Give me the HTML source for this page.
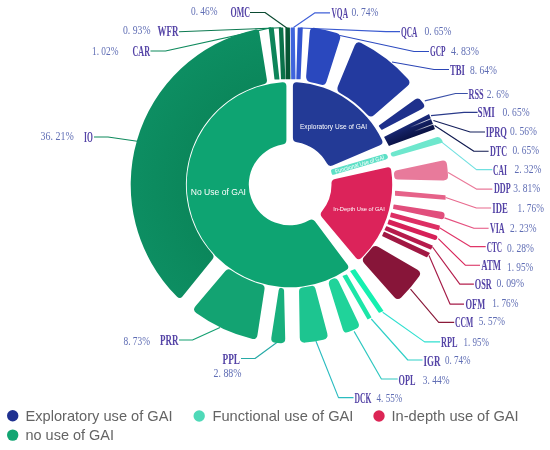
<!DOCTYPE html>
<html><head><meta charset="utf-8"><title>GAI use</title>
<style>
html,body{margin:0;padding:0;background:#fff;}
body{width:550px;height:450px;overflow:hidden;}
svg{display:block}
.nm{font-family:"Liberation Serif",serif;font-weight:bold;font-size:15.5px;fill:#5443a6;}
.pc{font-family:"Liberation Serif",serif;font-size:11.5px;fill:#5f6db4;}
.in{font-family:"Liberation Sans",sans-serif;fill:#fff;}
.lg{font-family:"Liberation Sans",sans-serif;font-size:14.5px;fill:#646464;}
</style></head><body>
<svg width="550" height="450" viewBox="0 0 550 450">
<defs>
<radialGradient id="gio" gradientUnits="userSpaceOnUse" cx="289.5" cy="184.6" r="159">
<stop offset="0.65" stop-color="#0b875b"/><stop offset="1" stop-color="#0d8e62"/>
</radialGradient>
<linearGradient id="gnv" gradientUnits="userSpaceOnUse" x1="406" y1="124" x2="412" y2="138">
<stop offset="0" stop-color="#1c2c7e"/><stop offset="0.45" stop-color="#121e5e"/><stop offset="1" stop-color="#0a1244"/>
</linearGradient>
<linearGradient id="gw1" gradientUnits="userSpaceOnUse" x1="409.6" y1="127.5" x2="431" y2="118.7">
<stop offset="0" stop-color="#fff" stop-opacity="0"/><stop offset="0.6" stop-color="#fff" stop-opacity="0.9"/><stop offset="1" stop-color="#fff"/>
</linearGradient>
<linearGradient id="gw2" gradientUnits="userSpaceOnUse" x1="414" y1="131.4" x2="433" y2="124.3">
<stop offset="0" stop-color="#fff" stop-opacity="0"/><stop offset="0.6" stop-color="#fff" stop-opacity="0.9"/><stop offset="1" stop-color="#fff"/>
</linearGradient>
</defs>
<rect width="550" height="450" fill="#fff"/>
<g id="lines">
<polyline points="250.0,12.5 265.0,12.5 287.5,28.5" fill="none" stroke="#0b4a31" stroke-width="1.15" stroke-linejoin="round"/>
<polyline points="179.0,31.8 230.0,29.8 281.0,27.8" fill="none" stroke="#0d7a51" stroke-width="1.15" stroke-linejoin="round"/>
<polyline points="150.5,51.0 165.5,51.0 271.0,27.8" fill="none" stroke="#0f8a5d" stroke-width="1.15" stroke-linejoin="round"/>
<polyline points="94.0,137.0 108.0,137.0 139.0,141.5" fill="none" stroke="#0f8a5d" stroke-width="1.15" stroke-linejoin="round"/>
<polyline points="179.0,340.0 192.5,340.0 220.0,327.5" fill="none" stroke="#14a071" stroke-width="1.15" stroke-linejoin="round"/>
<polyline points="241.0,358.5 255.0,358.5 277.5,342.0" fill="none" stroke="#27aaa6" stroke-width="1.15" stroke-linejoin="round"/>
<polyline points="315.9,341.0 338.5,397.6 353.5,397.6" fill="none" stroke="#2bbcc0" stroke-width="1.15" stroke-linejoin="round"/>
<polyline points="354.1,331.4 381.4,379.0 397.7,379.0" fill="none" stroke="#30c8c0" stroke-width="1.15" stroke-linejoin="round"/>
<polyline points="371.3,319.0 407.8,360.0 422.5,360.0" fill="none" stroke="#30d0c8" stroke-width="1.15" stroke-linejoin="round"/>
<polyline points="382.7,312.3 424.6,341.9 440.1,341.9" fill="none" stroke="#30e0d0" stroke-width="1.15" stroke-linejoin="round"/>
<polyline points="410.5,289.2 438.7,322.4 454.2,322.4" fill="none" stroke="#8a1a3a" stroke-width="1.15" stroke-linejoin="round"/>
<polyline points="429.0,255.4 450.0,304.1 464.0,304.1" fill="none" stroke="#a51c48" stroke-width="1.15" stroke-linejoin="round"/>
<polyline points="432.5,247.0 459.8,284.1 473.9,284.1" fill="none" stroke="#b5204e" stroke-width="1.15" stroke-linejoin="round"/>
<polyline points="438.3,238.7 465.3,265.2 480.0,265.2" fill="none" stroke="#d8245a" stroke-width="1.15" stroke-linejoin="round"/>
<polyline points="439.5,227.7 470.2,246.6 485.7,246.6" fill="none" stroke="#e03568" stroke-width="1.15" stroke-linejoin="round"/>
<polyline points="444.5,217.9 473.9,228.2 488.6,228.2" fill="none" stroke="#e5507f" stroke-width="1.15" stroke-linejoin="round"/>
<polyline points="445.7,197.5 476.4,208.0 491.1,208.0" fill="none" stroke="#e86a8e" stroke-width="1.15" stroke-linejoin="round"/>
<polyline points="448.1,172.5 476.4,189.1 492.3,189.1" fill="none" stroke="#ea7a9a" stroke-width="1.15" stroke-linejoin="round"/>
<polyline points="440.8,141.4 476.4,169.6 492.3,169.6" fill="none" stroke="#70e0e0" stroke-width="1.15" stroke-linejoin="round"/>
<polyline points="434.6,125.4 473.9,151.2 488.6,151.2" fill="none" stroke="#101a50" stroke-width="1.15" stroke-linejoin="round"/>
<polyline points="433.4,120.5 470.2,132.0 485.0,132.0" fill="none" stroke="#15205c" stroke-width="1.15" stroke-linejoin="round"/>
<polyline points="431.0,115.6 464.0,112.4 477.6,112.4" fill="none" stroke="#2a3a8a" stroke-width="1.15" stroke-linejoin="round"/>
<polyline points="424.8,100.9 455.5,93.5 467.8,93.5" fill="none" stroke="#3a50a8" stroke-width="1.15" stroke-linejoin="round"/>
<polyline points="392.0,62.0 434.0,69.5 449.0,69.5" fill="none" stroke="#2b45b5" stroke-width="1.15" stroke-linejoin="round"/>
<polyline points="340.0,35.5 414.0,51.5 429.0,51.5" fill="none" stroke="#2d4bc0" stroke-width="1.15" stroke-linejoin="round"/>
<polyline points="300.5,28.0 386.0,31.6 400.0,31.6" fill="none" stroke="#3a5ad0" stroke-width="1.15" stroke-linejoin="round"/>
<polyline points="293.5,27.5 315.0,12.8 330.0,12.8" fill="none" stroke="#4060d8" stroke-width="1.15" stroke-linejoin="round"/>
</g>
<g id="ring">
<path d="M314.91 221.37 L347.32 264.59 Q349.72 267.79 346.43 270.07 A102.70 102.70 0 1 1 282.41 82.15 Q286.40 81.95 286.40 85.95 L286.40 140.02 Q286.40 144.02 282.43 144.52 A40.70 40.70 0 1 0 309.10 220.27 Q312.51 218.17 314.91 221.37Z" fill="#0ea472"/>
<path d="M292.90 137.73 L292.90 85.96 Q292.90 81.96 296.89 82.17 A102.70 102.70 0 0 1 381.99 139.95 Q383.66 143.59 379.98 145.17 L332.46 165.53 Q328.78 167.11 326.99 163.53 A43.00 43.00 0 0 0 296.87 142.24 Q292.90 141.73 292.90 137.73Z" fill="#233a96"/>
<path d="M332.14 169.35 L384.21 154.06 Q386.80 153.30 387.61 155.88 L387.69 156.12 Q388.50 158.70 385.91 159.46 L333.74 174.75 Q332.20 175.20 331.75 173.67 L331.05 171.33 Q330.60 169.80 332.14 169.35Z" fill="#5de0c6"/>
<path d="M335.13 178.93 L386.72 167.53 Q390.62 166.66 391.24 170.62 A102.70 102.70 0 0 1 361.31 258.02 Q358.39 260.76 355.83 257.70 L321.93 217.20 Q319.36 214.14 322.03 211.16 A42.00 42.00 0 0 0 331.49 183.78 Q331.22 179.79 335.13 178.93Z" fill="#dc235a"/>
<path d="M212.36 259.57 L182.45 296.44 Q179.93 299.55 177.07 296.75 A158.80 158.80 0 0 1 254.84 29.63 Q258.75 28.81 259.39 32.75 L266.87 79.41 Q267.50 83.36 263.61 84.29 A103.60 103.60 0 0 0 212.16 253.53 Q214.87 256.46 212.36 259.57Z" fill="url(#gio)"/>
<path d="M264.50 289.24 L257.46 335.03 Q256.70 339.97 251.82 338.87 A158.80 158.80 0 0 1 196.21 313.11 Q192.21 310.11 195.44 306.29 L225.34 270.97 Q227.92 267.91 231.18 270.23 A103.60 103.60 0 0 0 261.24 284.27 Q265.11 285.29 264.50 289.24Z" fill="#13a372"/>
<path d="M284.06 290.54 L285.22 338.85 Q285.33 343.35 280.84 343.16 A158.80 158.80 0 0 1 275.12 342.75 Q270.65 342.28 271.33 337.83 L278.67 290.13 Q279.05 287.67 281.52 287.89 A103.60 103.60 0 0 0 281.52 287.89 Q284.00 288.05 284.06 290.54Z" fill="#18b07d"/>
<path d="M315.40 288.52 L327.25 333.18 Q328.66 338.50 323.31 339.76 A158.80 158.80 0 0 1 305.31 342.61 Q299.83 343.06 299.75 337.56 L299.05 291.26 Q299.00 287.76 302.48 287.38 A103.60 103.60 0 0 0 311.10 285.92 Q314.51 285.14 315.40 288.52Z" fill="#1dc590"/>
<path d="M338.62 281.30 L358.37 322.68 Q360.31 326.74 356.25 328.69 A158.80 158.80 0 0 1 348.36 332.09 Q344.16 333.70 342.81 329.40 L329.11 285.56 Q327.66 280.92 332.14 279.02 A103.60 103.60 0 0 0 332.14 279.02 Q336.53 276.91 338.62 281.30Z" fill="#20d39a"/>
<path d="M347.30 274.92 L371.30 317.08 Q371.60 317.60 371.06 317.87 L368.14 319.33 Q367.60 319.60 367.30 319.08 L342.70 276.52 Q342.40 276.00 342.97 275.80 L346.43 274.60 Q347.00 274.40 347.30 274.92Z" fill="#1de6a8"/>
<path d="M355.34 269.50 L383.26 310.50 Q383.60 311.00 383.05 311.24 L379.55 312.76 Q379.00 313.00 378.66 312.51 L350.34 271.49 Q350.00 271.00 350.56 270.78 L354.44 269.22 Q355.00 269.00 355.34 269.50Z" fill="#15f0b0"/>
<path d="M274.44 79.00 L268.66 28.10 Q268.60 27.60 269.10 27.60 L273.20 27.60 Q273.70 27.60 273.76 28.10 L279.44 79.00 Q279.50 79.50 279.00 79.50 L275.00 79.50 Q274.50 79.50 274.44 79.00Z" fill="#0d8459"/>
<path d="M280.98 78.70 L278.82 28.10 Q278.80 27.60 279.30 27.60 L282.70 27.60 Q283.20 27.60 283.22 28.10 L285.38 78.70 Q285.40 79.20 284.90 79.20 L281.50 79.20 Q281.00 79.20 280.98 78.70Z" fill="#0a7149"/>
<path d="M285.60 78.70 L285.40 28.10 Q285.40 27.60 285.90 27.60 L289.40 27.60 Q289.90 27.60 289.90 28.10 L290.40 78.70 Q290.40 79.20 289.90 79.20 L286.10 79.20 Q285.60 79.20 285.60 78.70Z" fill="#075634"/>
<path d="M291.19 78.70 L290.61 28.10 Q290.60 27.60 291.10 27.60 L294.30 27.60 Q294.80 27.60 294.81 28.10 L295.49 78.70 Q295.50 79.20 295.00 79.20 L291.70 79.20 Q291.20 79.20 291.19 78.70Z" fill="#3f64dd"/>
<path d="M296.31 78.70 L297.69 28.10 Q297.70 27.60 298.20 27.60 L302.30 27.60 Q302.80 27.60 302.78 28.10 L300.62 78.70 Q300.60 79.20 300.10 79.20 L296.80 79.20 Q296.30 79.20 296.31 78.70Z" fill="#3254d0"/>
<path d="M306.14 76.28 L309.74 32.13 Q310.15 27.15 315.10 27.88 A158.80 158.80 0 0 1 336.72 32.98 Q341.46 34.54 339.94 39.31 L326.50 81.44 Q324.98 86.20 320.24 84.62 A104.60 104.60 0 0 0 310.65 82.16 Q305.73 81.27 306.14 76.28Z" fill="#2a48be"/>
<path d="M337.88 86.27 L354.82 45.36 Q356.74 40.74 361.23 42.92 A158.80 158.80 0 0 1 407.99 78.88 Q411.26 82.66 407.50 85.95 L374.20 115.05 Q370.44 118.34 367.18 114.55 A104.60 104.60 0 0 0 340.39 93.22 Q335.97 90.89 337.88 86.27Z" fill="#233a9f"/>
<path d="M379.21 125.22 L414.94 99.62 Q418.60 97.00 421.25 100.63 L423.25 103.37 Q425.90 107.00 421.91 109.08 L382.59 129.54 Q381.70 130.00 381.08 129.21 L379.02 126.59 Q378.40 125.80 379.21 125.22Z" fill="#1e308c"/>
<path d="M384.36 136.82 L428.64 114.18 Q429.00 114.00 429.15 114.37 L434.85 128.63 Q435.00 129.00 434.62 129.14 L389.38 145.86 Q389.00 146.00 388.81 145.65 L384.19 137.35 Q384.00 137.00 384.36 136.82Z" fill="url(#gnv)"/>
<line x1="409.6" y1="127.5" x2="431" y2="118.7" stroke="url(#gw1)" stroke-width="0.8"/>
<line x1="414" y1="131.4" x2="433" y2="124.3" stroke="url(#gw2)" stroke-width="0.8"/>
<path d="M391.89 152.35 L435.69 137.43 Q439.00 136.30 441.22 139.01 L441.78 139.69 Q444.00 142.40 440.63 143.35 L393.93 156.46 Q392.00 157.00 391.11 155.21 L390.89 154.79 Q390.00 153.00 391.89 152.35Z" fill="#6ee7cd"/>
<path d="M397.05 170.34 L441.45 160.77 Q446.34 159.71 447.04 164.66 A158.80 158.80 0 0 1 448.04 175.51 Q448.25 180.50 443.25 180.41 L397.88 179.57 Q394.38 179.51 394.15 176.01 A105.00 105.00 0 0 0 394.02 174.56 Q393.63 171.08 397.05 170.34Z" fill="#e87a9b"/>
<path d="M395.50 190.85 L445.10 195.35 Q445.60 195.40 445.60 195.90 L445.60 199.40 Q445.60 199.90 445.10 199.86 L395.50 195.84 Q395.00 195.80 395.00 195.30 L395.00 191.30 Q395.00 190.80 395.50 190.85Z" fill="#e66289"/>
<path d="M394.09 204.48 L441.54 211.77 Q445.00 212.30 444.54 215.77 L444.46 216.33 Q444.00 219.80 440.58 219.07 L393.49 209.10 Q393.00 209.00 393.06 208.50 L393.54 204.90 Q393.60 204.40 394.09 204.48Z" fill="#e14e7c"/>
<path d="M391.48 212.53 L439.52 225.47 Q440.00 225.60 439.90 226.09 L439.10 229.91 Q439.00 230.40 438.52 230.27 L390.48 217.13 Q390.00 217.00 390.11 216.51 L390.89 212.89 Q391.00 212.40 391.48 212.53Z" fill="#dd2f64"/>
<path d="M389.47 219.56 L435.73 235.23 Q438.00 236.00 437.21 238.27 L437.19 238.33 Q436.40 240.60 434.13 239.83 L387.87 224.16 Q387.40 224.00 387.56 223.53 L388.84 219.87 Q389.00 219.40 389.47 219.56Z" fill="#d62058"/>
<path d="M386.86 226.19 L432.54 245.41 Q433.00 245.60 432.78 246.05 L431.22 249.15 Q431.00 249.60 430.54 249.41 L384.86 230.19 Q384.40 230.00 384.62 229.55 L386.18 226.45 Q386.40 226.00 386.86 226.19Z" fill="#b61b4c"/>
<path d="M384.45 231.81 L429.55 252.79 Q430.00 253.00 429.72 253.41 L427.28 256.99 Q427.00 257.40 426.55 257.19 L382.45 236.21 Q382.00 236.00 382.21 235.54 L383.79 232.06 Q384.00 231.60 384.45 231.81Z" fill="#a11843"/>
<path d="M378.55 247.07 L417.55 269.81 Q421.87 272.32 419.04 276.45 A158.80 158.80 0 0 1 401.26 297.41 Q397.66 300.87 394.33 297.14 L364.38 263.53 Q361.05 259.80 364.59 256.27 A103.80 103.80 0 0 0 371.25 248.56 Q374.23 244.55 378.55 247.07Z" fill="#871539"/>
</g>
<g id="labels">
<text x="230.5" y="17.0" textLength="19.5" lengthAdjust="spacingAndGlyphs" class="nm">OMC</text>
<text x="191.0" y="15.3" textLength="26.5" lengthAdjust="spacingAndGlyphs" class="pc">0. 46%</text>
<text x="157.5" y="36.0" textLength="21.0" lengthAdjust="spacingAndGlyphs" class="nm">WFR</text>
<text x="123.0" y="34.3" textLength="27.5" lengthAdjust="spacingAndGlyphs" class="pc">0. 93%</text>
<text x="132.5" y="56.0" textLength="17.5" lengthAdjust="spacingAndGlyphs" class="nm">CAR</text>
<text x="92.0" y="54.8" textLength="26.5" lengthAdjust="spacingAndGlyphs" class="pc">1. 02%</text>
<text x="84.0" y="141.5" textLength="8.8" lengthAdjust="spacingAndGlyphs" class="nm">IO</text>
<text x="40.5" y="140.3" textLength="33.3" lengthAdjust="spacingAndGlyphs" class="pc">36. 21%</text>
<text x="160.0" y="344.5" textLength="18.5" lengthAdjust="spacingAndGlyphs" class="nm">PRR</text>
<text x="123.5" y="345.3" textLength="26.5" lengthAdjust="spacingAndGlyphs" class="pc">8. 73%</text>
<text x="222.5" y="363.5" textLength="17.5" lengthAdjust="spacingAndGlyphs" class="nm">PPL</text>
<text x="213.5" y="377.3" textLength="28.0" lengthAdjust="spacingAndGlyphs" class="pc">2. 88%</text>
<text x="331.5" y="17.5" textLength="16.5" lengthAdjust="spacingAndGlyphs" class="nm">VQA</text>
<text x="351.5" y="15.8" textLength="27.0" lengthAdjust="spacingAndGlyphs" class="pc">0. 74%</text>
<text x="401.0" y="36.6" textLength="16.4" lengthAdjust="spacingAndGlyphs" class="nm">QCA</text>
<text x="424.4" y="34.8" textLength="27.0" lengthAdjust="spacingAndGlyphs" class="pc">0. 65%</text>
<text x="430.0" y="56.4" textLength="15.6" lengthAdjust="spacingAndGlyphs" class="nm">GCP</text>
<text x="451.0" y="54.8" textLength="28.0" lengthAdjust="spacingAndGlyphs" class="pc">4. 83%</text>
<text x="450.0" y="75.0" textLength="15.0" lengthAdjust="spacingAndGlyphs" class="nm">TBI</text>
<text x="470.0" y="73.8" textLength="27.0" lengthAdjust="spacingAndGlyphs" class="pc">8. 64%</text>
<text x="468.5" y="99.0" textLength="15.2" lengthAdjust="spacingAndGlyphs" class="nm">RSS</text>
<text x="486.7" y="97.8" textLength="22.1" lengthAdjust="spacingAndGlyphs" class="pc">2. 6%</text>
<text x="477.6" y="117.4" textLength="17.2" lengthAdjust="spacingAndGlyphs" class="nm">SMI</text>
<text x="502.6" y="115.8" textLength="27.0" lengthAdjust="spacingAndGlyphs" class="pc">0. 65%</text>
<text x="485.7" y="136.5" textLength="21.3" lengthAdjust="spacingAndGlyphs" class="nm">IPRQ</text>
<text x="510.0" y="135.3" textLength="27.0" lengthAdjust="spacingAndGlyphs" class="pc">0. 56%</text>
<text x="489.9" y="155.7" textLength="17.1" lengthAdjust="spacingAndGlyphs" class="nm">DTC</text>
<text x="512.4" y="154.3" textLength="26.6" lengthAdjust="spacingAndGlyphs" class="pc">0. 65%</text>
<text x="493.0" y="174.6" textLength="14.0" lengthAdjust="spacingAndGlyphs" class="nm">CAI</text>
<text x="514.4" y="172.8" textLength="27.0" lengthAdjust="spacingAndGlyphs" class="pc">2. 32%</text>
<text x="494.0" y="193.4" textLength="16.7" lengthAdjust="spacingAndGlyphs" class="nm">DDP</text>
<text x="513.2" y="191.8" textLength="27.0" lengthAdjust="spacingAndGlyphs" class="pc">3. 81%</text>
<text x="492.3" y="213.0" textLength="15.5" lengthAdjust="spacingAndGlyphs" class="nm">IDE</text>
<text x="517.6" y="211.8" textLength="26.3" lengthAdjust="spacingAndGlyphs" class="pc">1. 76%</text>
<text x="489.9" y="232.7" textLength="14.7" lengthAdjust="spacingAndGlyphs" class="nm">VIA</text>
<text x="510.0" y="232.3" textLength="26.5" lengthAdjust="spacingAndGlyphs" class="pc">2. 23%</text>
<text x="486.7" y="251.5" textLength="15.4" lengthAdjust="spacingAndGlyphs" class="nm">CTC</text>
<text x="507.0" y="251.8" textLength="27.0" lengthAdjust="spacingAndGlyphs" class="pc">0. 28%</text>
<text x="481.3" y="270.2" textLength="19.6" lengthAdjust="spacingAndGlyphs" class="nm">ATM</text>
<text x="507.0" y="270.8" textLength="26.3" lengthAdjust="spacingAndGlyphs" class="pc">1. 95%</text>
<text x="474.8" y="288.5" textLength="16.9" lengthAdjust="spacingAndGlyphs" class="nm">OSR</text>
<text x="496.5" y="287.3" textLength="27.5" lengthAdjust="spacingAndGlyphs" class="pc">0. 09%</text>
<text x="465.5" y="308.8" textLength="19.7" lengthAdjust="spacingAndGlyphs" class="nm">OFM</text>
<text x="492.2" y="307.3" textLength="26.2" lengthAdjust="spacingAndGlyphs" class="pc">1. 76%</text>
<text x="455.0" y="327.2" textLength="18.4" lengthAdjust="spacingAndGlyphs" class="nm">CCM</text>
<text x="478.7" y="325.3" textLength="26.3" lengthAdjust="spacingAndGlyphs" class="pc">5. 57%</text>
<text x="441.0" y="346.9" textLength="16.6" lengthAdjust="spacingAndGlyphs" class="nm">RPL</text>
<text x="463.5" y="345.8" textLength="25.4" lengthAdjust="spacingAndGlyphs" class="pc">1. 95%</text>
<text x="423.6" y="365.5" textLength="17.0" lengthAdjust="spacingAndGlyphs" class="nm">IGR</text>
<text x="445.0" y="364.3" textLength="25.5" lengthAdjust="spacingAndGlyphs" class="pc">0. 74%</text>
<text x="398.5" y="384.5" textLength="16.9" lengthAdjust="spacingAndGlyphs" class="nm">OPL</text>
<text x="422.8" y="383.8" textLength="26.7" lengthAdjust="spacingAndGlyphs" class="pc">3. 44%</text>
<text x="354.6" y="402.8" textLength="16.9" lengthAdjust="spacingAndGlyphs" class="nm">DCK</text>
<text x="376.5" y="401.8" textLength="25.9" lengthAdjust="spacingAndGlyphs" class="pc">4. 55%</text>
</g>
<g id="inner">
<text x="190.7" y="195.4" textLength="55.3" lengthAdjust="spacingAndGlyphs" class="in" font-size="8.6">No Use of GAI</text>
<text x="300" y="129.3" textLength="67" lengthAdjust="spacingAndGlyphs" class="in" font-size="6.6">Exploratory Use of GAI</text>
<text x="333.2" y="211" textLength="51.6" lengthAdjust="spacingAndGlyphs" class="in" font-size="5.8">In-Depth Use of GAI</text>
<text transform="translate(359.7,164.4) rotate(-16.4)" x="-25.5" y="2.0" textLength="51" lengthAdjust="spacingAndGlyphs" class="in" font-size="5.9">Functional Use of GAI</text>
</g>
<g id="legend">
<circle cx="12.7" cy="415.8" r="5.7" fill="#1f3190"/>
<text x="25.5" y="420.8" textLength="147.0" lengthAdjust="spacingAndGlyphs" class="lg">Exploratory use of GAI</text>
<circle cx="199.2" cy="416.0" r="5.7" fill="#4fd9b8"/>
<text x="212.5" y="421.0" textLength="140.9" lengthAdjust="spacingAndGlyphs" class="lg">Functional use of GAI</text>
<circle cx="379.0" cy="416.0" r="5.7" fill="#dc2555"/>
<text x="391.5" y="421.0" textLength="127.2" lengthAdjust="spacingAndGlyphs" class="lg">In-depth use of GAI</text>
<circle cx="12.7" cy="435.1" r="5.7" fill="#12a572"/>
<text x="25.5" y="440.1" textLength="88.5" lengthAdjust="spacingAndGlyphs" class="lg">no use of GAI</text>
</g>
</svg>
</body></html>
